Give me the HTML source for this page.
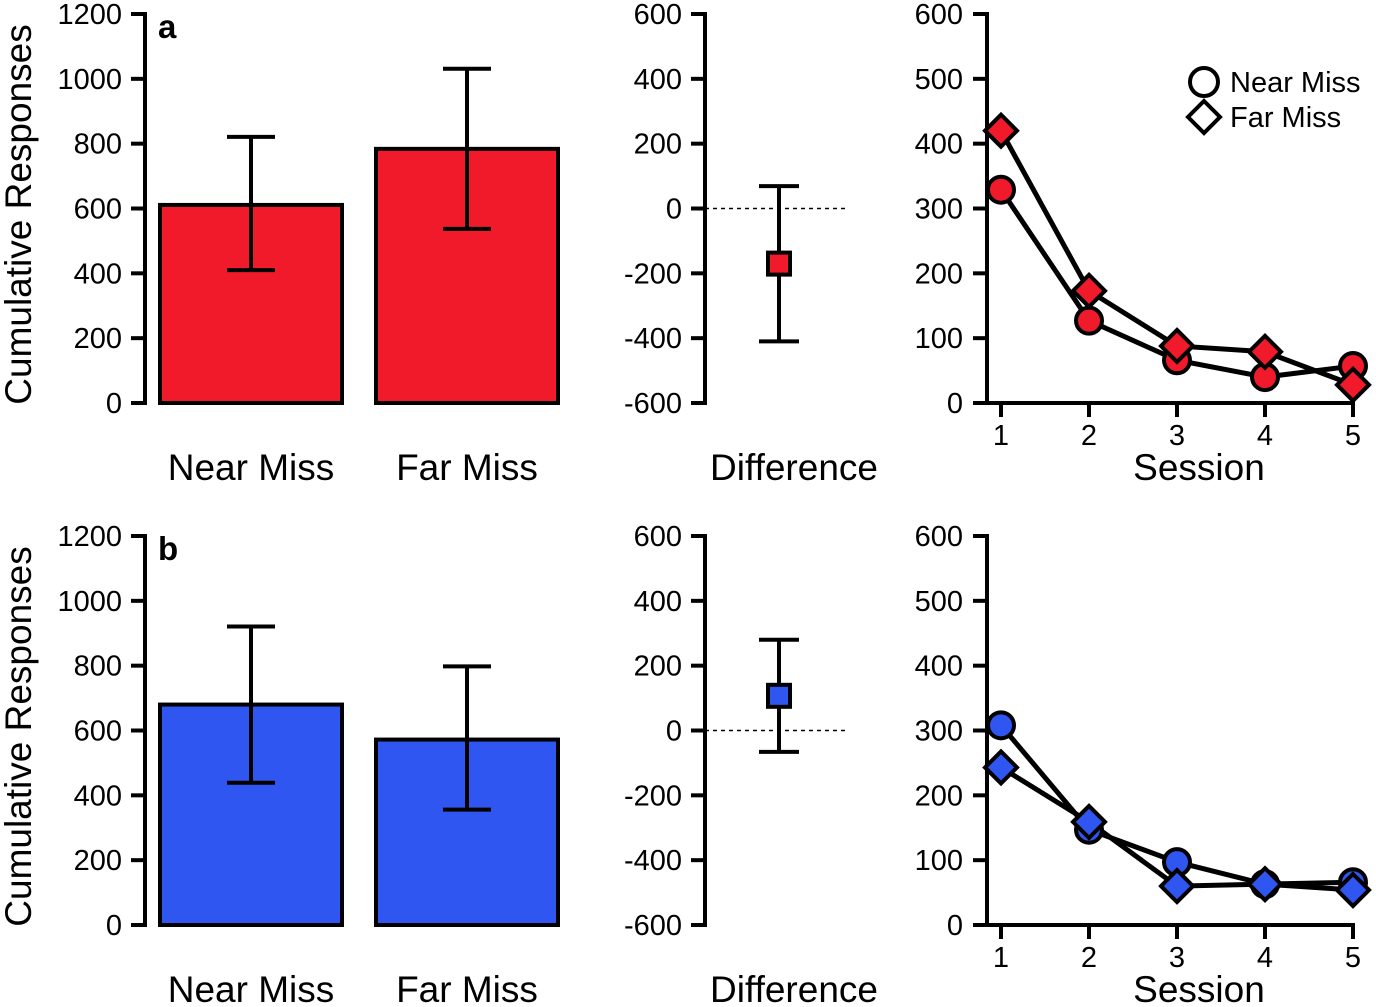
<!DOCTYPE html>
<html><head><meta charset="utf-8"><style>
html,body{margin:0;padding:0;background:#fff}
svg{display:block}
text{font-family:"Liberation Sans",Arial,sans-serif;fill:#000}
</style></head><body>
<svg id="fig" width="1376" height="1007" xmlns="http://www.w3.org/2000/svg"></svg>
<script>
const barCategories = ["Near Miss","Far Miss"];
const barMeansA = [611, 784];
const barLowA = [410, 537];
const barHighA = [821, 1031];
const barMeansB = [680, 572];
const barLowB = [439, 356];
const barHighB = [921, 798];
const diffA = [-170, -410, 69];
const diffB = [107, -66, 280];
const sessions = [1,2,3,4,5];
const nearA = [329, 127, 66, 40, 57];
const farA = [420, 173, 88, 79, 28];
const nearB = [308, 147, 97, 63, 66];
const farB = [243, 159, 60, 63, 54];
const barTicks = [0,200,400,600,800,1000,1200];
const diffTicks = [-600,-400,-200,0,200,400,600];
const sessTicks = [0,100,200,300,400,500,600];

const NS="http://www.w3.org/2000/svg";
const svg=document.getElementById('fig');
function el(tag,attrs,parent,name){const e=document.createElementNS(NS,tag);for(const k in attrs)e.setAttribute(k,attrs[k]);


(parent||svg).appendChild(e);return e;}
function txt(x,y,s,size,anchor,parent,name,weight){const t=el('text',{x:x,y:y,'font-size':size,'text-anchor':anchor||'middle'},parent,name);if(weight)t.setAttribute('font-weight',weight);t.textContent=s;return t;}

function panel(off,letter,color,means,lo,hi,diff,near,far){
  const g=el('g',{},svg,'panel-'+letter);
  const y0=403+off, yTop=14+off, H=y0-yTop;
  const by=v=>y0-v/1200*H;
  el('line',{x1:145,y1:yTop-2,x2:145,y2:y0+2,stroke:'#000','stroke-width':4},g,'bar-y-axis');
  barTicks.forEach(t=>{el('line',{x1:131,y1:by(t),x2:145,y2:by(t),stroke:'#000','stroke-width':4},g,'bar-y-tick');
    txt(122,by(t)+10,String(t),29,'end',g,'bar-y-tick-label');});
  const bx=[160,376], bw=182;
  means.forEach((m,i)=>{
    el('rect',{x:bx[i],y:by(m),width:bw,height:y0-by(m),fill:color,stroke:'#000','stroke-width':4},g,'bar-'+barCategories[i].toLowerCase().replace(' ','-'));
    const cx=bx[i]+bw/2;
    el('line',{x1:cx,y1:by(hi[i]),x2:cx,y2:by(lo[i]),stroke:'#000','stroke-width':4},g,'error-bar');
    el('line',{x1:cx-24,y1:by(hi[i]),x2:cx+24,y2:by(hi[i]),stroke:'#000','stroke-width':4},g,'error-cap-top');
    el('line',{x1:cx-24,y1:by(lo[i]),x2:cx+24,y2:by(lo[i]),stroke:'#000','stroke-width':4},g,'error-cap-bottom');
    txt(cx,y0+77,barCategories[i],37,'middle',g,'x-category-label');
  });
  const yl=el('text',{x:0,y:0,'font-size':37,'text-anchor':'middle',transform:`translate(31,${(yTop+y0)/2+6}) rotate(-90)`},g,'y-axis-title');
  yl.textContent='Cumulative Responses';
  txt(158,yTop+24,letter,33,'start',g,'panel-letter','bold');
  const dy=v=>yTop+H/2-v/1200*H;
  el('line',{x1:705,y1:yTop-2,x2:705,y2:y0+2,stroke:'#000','stroke-width':4},g,'diff-y-axis');
  diffTicks.forEach(t=>{el('line',{x1:691,y1:dy(t),x2:705,y2:dy(t),stroke:'#000','stroke-width':4},g,'diff-y-tick');
    txt(682,dy(t)+10,String(t),29,'end',g,'diff-y-tick-label');});
  el('line',{x1:705,y1:dy(0),x2:848,y2:dy(0),stroke:'#000','stroke-width':1.5,'stroke-dasharray':'4,4'},g,'zero-line');
  const dx=779;
  el('line',{x1:dx,y1:dy(diff[2]),x2:dx,y2:dy(diff[1]),stroke:'#000','stroke-width':4},g,'diff-error-bar');
  el('line',{x1:dx-20,y1:dy(diff[2]),x2:dx+20,y2:dy(diff[2]),stroke:'#000','stroke-width':4},g,'diff-error-cap');
  el('line',{x1:dx-20,y1:dy(diff[1]),x2:dx+20,y2:dy(diff[1]),stroke:'#000','stroke-width':4},g,'diff-error-cap');
  el('rect',{x:dx-11,y:dy(diff[0])-11,width:22,height:22,fill:color,stroke:'#000','stroke-width':4},g,'diff-point');
  txt(794,y0+77,'Difference',37,'middle',g,'diff-x-label');
  const sy=v=>y0-v/600*H, sx=s=>1001+(s-1)*88;
  el('line',{x1:987,y1:yTop-2,x2:987,y2:y0,stroke:'#000','stroke-width':4},g,'session-y-axis');
  el('line',{x1:973,y1:y0,x2:1355,y2:y0,stroke:'#000','stroke-width':4},g,'session-x-axis');
  sessTicks.forEach(t=>{el('line',{x1:973,y1:sy(t),x2:987,y2:sy(t),stroke:'#000','stroke-width':4},g,'session-y-tick');
    txt(963,sy(t)+10,String(t),29,'end',g,'session-y-tick-label');});
  sessions.forEach(s=>{el('line',{x1:sx(s),y1:y0,x2:sx(s),y2:y0+14,stroke:'#000','stroke-width':4},g,'session-x-tick');
    txt(sx(s),y0+42,String(s),29,'middle',g,'session-x-tick-label');});
  txt(1199,y0+77,'Session',37,'middle',g,'session-x-label');
  const pts=a=>a.map((v,i)=>sx(sessions[i])+','+sy(v)).join(' ');
  el('polyline',{points:pts(near),fill:'none',stroke:'#000','stroke-width':5},g,'near-miss-line');
  el('polyline',{points:pts(far),fill:'none',stroke:'#000','stroke-width':5},g,'far-miss-line');
  near.forEach((v,i)=>el('circle',{cx:sx(sessions[i]),cy:sy(v),r:13,fill:color,stroke:'#000','stroke-width':4},g,'near-miss-point'));
  far.forEach((v,i)=>{const x=sx(sessions[i]),y=sy(v);
    el('polygon',{points:`${x},${y-16} ${x+16},${y} ${x},${y+16} ${x-16},${y}`,fill:color,stroke:'#000','stroke-width':4},g,'far-miss-point');});
  if(letter==='a'){
    const lg=el('g',{},g,'legend');
    el('circle',{cx:1204,cy:82,r:14,fill:'#fff',stroke:'#000','stroke-width':4},lg,'legend-near-marker');
    txt(1230,92,'Near Miss',29,'start',lg,'legend-near-label');
    el('polygon',{points:'1204,101 1220,117 1204,133 1188,117',fill:'#fff',stroke:'#000','stroke-width':4},lg,'legend-far-marker');
    txt(1230,127,'Far Miss',29,'start',lg,'legend-far-label');
  }
}
panel(0,'a','#f01a2a',barMeansA,barLowA,barHighA,diffA,nearA,farA);
panel(522,'b','#2f56f0',barMeansB,barLowB,barHighB,diffB,nearB,farB);
</script>
</body></html>
